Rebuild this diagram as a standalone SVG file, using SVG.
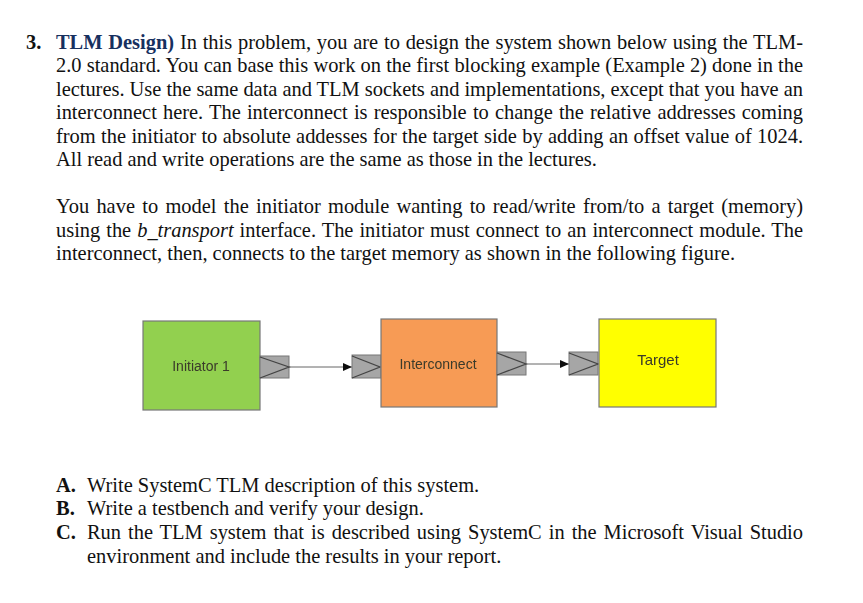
<svg xmlns="http://www.w3.org/2000/svg" width="863" height="603" viewBox="0 0 863 603">
<style>
text{font-family:"Liberation Serif","Times New Roman",serif;font-size:20.45px;fill:#111}
.b{font-weight:bold}
.h{font-weight:bold;fill:#17305f}
text.n{font-family:"Liberation Sans",Arial,sans-serif;font-size:14px;fill:#3a3a2a;text-anchor:middle}
.box{stroke:#777;stroke-width:1.2}
.port{fill:#a6a6a6;stroke:#777;stroke-width:1}
.chev{fill:none;stroke:#444;stroke-width:1.3}
.wire{fill:none;stroke:#666;stroke-width:1;marker-end:url(#a)}
</style>
<defs>
<marker id="a" markerUnits="userSpaceOnUse" markerWidth="10" markerHeight="8" refX="9" refY="4" orient="auto"><path d="M0 0L9 4L0 8Z" fill="#111"/></marker>
<filter id="soft" filterUnits="userSpaceOnUse" x="0" y="0" width="863" height="603"><feGaussianBlur stdDeviation="0.45"/></filter>
</defs>
<rect width="863" height="603" fill="#fff"/>
<g id="problem-text">
<text x="26" y="49" class="b">3.</text>
<text x="56" y="49" word-spacing="0.7" textLength="747"><tspan class="h">TLM Design)</tspan> In this problem, you are to design the system shown below using the TLM-</text>
<text x="56" y="72" word-spacing="0.1" textLength="747">2.0 standard. You can base this work on the first blocking example (Example 2) done in the</text>
<text x="56" y="96" textLength="747">lectures. Use the same data and TLM sockets and implementations, except that you have an</text>
<text x="56" y="119" word-spacing="1.1" textLength="747">interconnect here. The interconnect is responsible to change the relative addresses coming</text>
<text x="56" y="143" word-spacing="0.3" textLength="747">from the initiator to absolute addesses for the target side by adding an offset value of 1024.</text>
<text x="56" y="166">All read and write operations are the same as those in the lectures.</text>
<text x="56" y="213" word-spacing="2.15" textLength="747">You have to model the initiator module wanting to read/write from/to a target (memory)</text>
<text x="56" y="237" word-spacing="0.95" textLength="747">using the <tspan font-style="italic">b_transport</tspan> interface. The initiator must connect to an interconnect module. The</text>
<text x="56" y="260">interconnect, then, connects to the target memory as shown in the following figure.</text>
<text x="56" y="492" class="b">A.</text><text x="87" y="492">Write SystemC TLM description of this system.</text>
<text x="56" y="515" class="b">B.</text><text x="87" y="515">Write a testbench and verify your design.</text>
<text x="56" y="539" class="b">C.</text><text x="87" y="539" word-spacing="1.95" textLength="716">Run the TLM system that is described using SystemC in the Microsoft Visual Studio</text>
<text x="87" y="563">environment and include the results in your report.</text>
</g>
<g id="connectors" filter="url(#soft)">
<path class="wire" d="M289 367H352"/>
<path class="wire" d="M526 364H569"/>
</g>
<g id="initiator" filter="url(#soft)">
<rect class="box" x="143" y="321" width="117" height="89" fill="#92d050"/>
<rect class="port" x="260" y="356" width="29" height="22"/>
<path class="chev" d="M260 357L289 367L260 378"/>
<text class="n" x="201" y="371">Initiator 1</text>
</g>
<g id="interconnect" filter="url(#soft)">
<rect class="port" x="352" y="355" width="29" height="23"/>
<path class="chev" d="M352 356L380 367L352 378"/>
<rect class="box" x="381" y="319" width="116" height="88" fill="#f79b55"/>
<rect class="port" x="497" y="352" width="29" height="23"/>
<path class="chev" d="M497 353L526 364L497 375"/>
<text class="n" x="438" y="369">Interconnect</text>
</g>
<g id="target" filter="url(#soft)">
<rect class="port" x="569" y="352" width="29" height="23"/>
<path class="chev" d="M569 353L598 364L569 375"/>
<rect class="box" x="599" y="319" width="117" height="88" fill="#ffff00"/>
<text class="n" x="658" y="365" style="font-size:15px">Target</text>
</g>
</svg>
